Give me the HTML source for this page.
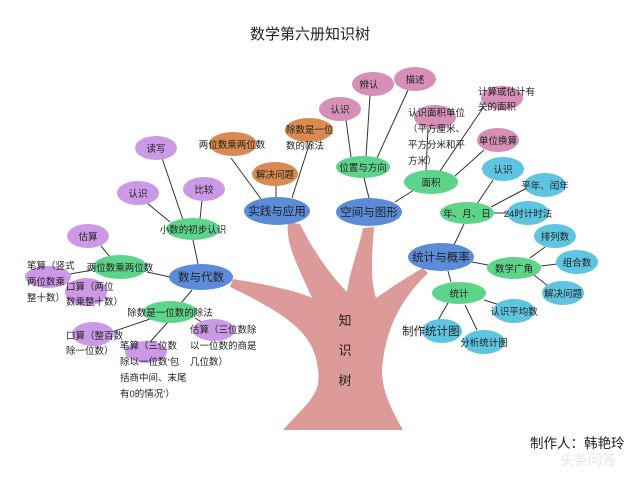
<!DOCTYPE html>
<html><head><meta charset="utf-8"><style>
html,body{margin:0;padding:0;background:#fff;}
svg{display:block;}
text{font-family:"Liberation Sans","Noto Sans CJK SC",sans-serif;fill:#222;}
</style></head><body>
<svg width="640" height="480" viewBox="0 0 640 480" xmlns="http://www.w3.org/2000/svg">
<rect width="640" height="480" fill="#fff"/>
<text x="310" y="39" font-size="15" text-anchor="middle">数学第六册知识树</text>
<path d="M283,430 C305,405 322,395 318,370 C315,340 300,320 230,287 L233,279 C270,285 300,292 312,298 C300,270 285,245 288,222 L300,224 C315,255 335,280 347,292 C350,270 360,245 363,228 L374,227 C372,255 370,280 376,298 C395,285 410,275 423,268 L428,273 C400,300 385,330 382,370 C382,395 395,415 403,430 Z" fill="#dc9a98"/>
<g stroke="#333" stroke-width="1">
<line x1="162" y1="158" x2="183" y2="220"/><line x1="147" y1="203" x2="170" y2="222"/><line x1="202" y1="200" x2="200" y2="219"/><line x1="193" y1="240" x2="198" y2="264"/>
<line x1="101" y1="246" x2="110" y2="257"/><line x1="93" y1="270" x2="70" y2="274"/><line x1="147" y1="272" x2="170" y2="277"/><line x1="192" y1="290" x2="182" y2="302"/>
<line x1="150" y1="319" x2="112" y2="332"/><line x1="168" y1="322" x2="150" y2="342"/><line x1="195" y1="318" x2="205" y2="324"/>
<line x1="231" y1="158" x2="261" y2="199"/><line x1="276" y1="186" x2="276" y2="197"/><line x1="310" y1="142" x2="292" y2="198"/>
<line x1="364" y1="178" x2="369" y2="198"/><line x1="346" y1="120" x2="351" y2="157"/><line x1="370" y1="95" x2="366" y2="157"/><line x1="408" y1="90" x2="377" y2="158"/>
<line x1="414" y1="190" x2="395" y2="202"/><line x1="426" y1="171" x2="428" y2="128"/><line x1="440" y1="171" x2="483" y2="108"/><line x1="455" y1="176" x2="484" y2="150"/>
<line x1="493" y1="180" x2="477" y2="204"/><line x1="525" y1="189" x2="491" y2="207"/><line x1="507" y1="213" x2="494" y2="213"/><line x1="464" y1="224" x2="454" y2="245"/>
<line x1="472" y1="262" x2="488" y2="265"/><line x1="545" y1="247" x2="530" y2="258"/><line x1="557" y1="264" x2="541" y2="266"/><line x1="548" y1="286" x2="534" y2="275"/>
<line x1="448" y1="271" x2="451" y2="282"/><line x1="484" y1="300" x2="500" y2="305"/><line x1="448" y1="303" x2="437" y2="322"/><line x1="465" y1="305" x2="477" y2="330"/>
</g>
<g>
<!-- purple -->
<ellipse cx="156" cy="148" rx="21" ry="12" fill="#cc99e6"/>
<ellipse cx="138" cy="193" rx="21" ry="12" fill="#cc99e6"/>
<ellipse cx="204" cy="189" rx="21" ry="12" fill="#cc99e6"/>
<ellipse cx="88" cy="236" rx="21" ry="12" fill="#cc99e6"/>
<ellipse cx="48" cy="277" rx="23" ry="11" fill="#cc99e6"/>
<ellipse cx="86" cy="292" rx="21" ry="14" fill="#cc99e6"/>
<ellipse cx="93" cy="334" rx="21" ry="12" fill="#cc99e6"/>
<ellipse cx="146" cy="352" rx="21" ry="11" fill="#cc99e6"/>
<ellipse cx="214" cy="330" rx="21" ry="11" fill="#cc99e6"/>
<!-- green -->
<ellipse cx="193" cy="229" rx="27" ry="11" fill="#5ed38a"/>
<ellipse cx="120" cy="267" rx="27" ry="12" fill="#5ed38a"/>
<ellipse cx="170" cy="312" rx="27" ry="11" fill="#5ed38a"/>
<ellipse cx="363" cy="167" rx="27" ry="11" fill="#5ed38a"/>
<ellipse cx="431" cy="182" rx="27" ry="12" fill="#5ed38a"/>
<ellipse cx="467" cy="213" rx="27" ry="11" fill="#5ed38a"/>
<ellipse cx="514" cy="268" rx="27" ry="11" fill="#5ed38a"/>
<ellipse cx="459" cy="293" rx="27" ry="11" fill="#5ed38a"/>
<!-- orange -->
<ellipse cx="233" cy="144" rx="24" ry="12" fill="#d98a50"/>
<ellipse cx="275" cy="174" rx="23" ry="12" fill="#d98a50"/>
<ellipse cx="309" cy="130" rx="24" ry="12" fill="#d98a50"/>
<!-- pink -->
<ellipse cx="340" cy="109" rx="21" ry="12" fill="#d690b8"/>
<ellipse cx="373" cy="84" rx="21" ry="12" fill="#d690b8"/>
<ellipse cx="415" cy="79" rx="21" ry="12" fill="#d690b8"/>
<ellipse cx="435" cy="117" rx="21" ry="12" fill="#d690b8"/>
<ellipse cx="502" cy="98" rx="21" ry="12" fill="#d690b8"/>
<ellipse cx="498" cy="140" rx="21" ry="12" fill="#d690b8"/>
<!-- cyan -->
<ellipse cx="503" cy="169" rx="21" ry="12" fill="#5ec4e0"/>
<ellipse cx="545" cy="185" rx="21" ry="12" fill="#5ec4e0"/>
<ellipse cx="528" cy="213" rx="21" ry="12" fill="#5ec4e0"/>
<ellipse cx="555" cy="236" rx="21" ry="12" fill="#5ec4e0"/>
<ellipse cx="577" cy="262" rx="21" ry="12" fill="#5ec4e0"/>
<ellipse cx="563" cy="293" rx="21" ry="12" fill="#5ec4e0"/>
<ellipse cx="514" cy="311" rx="21" ry="12" fill="#5ec4e0"/>
<ellipse cx="442" cy="331" rx="20" ry="12" fill="#5ec4e0"/>
<ellipse cx="484" cy="342" rx="21" ry="12" fill="#5ec4e0"/>
<!-- blue -->
<ellipse cx="201" cy="277" rx="32" ry="13" fill="#5b8bd9"/>
<ellipse cx="277" cy="211" rx="33" ry="14" fill="#5b8bd9"/>
<ellipse cx="369" cy="212" rx="33" ry="14" fill="#5b8bd9"/>
<ellipse cx="441" cy="257" rx="33" ry="14" fill="#5b8bd9"/>
</g>
<g font-size="9.5" text-anchor="middle">
<text x="156" y="152">读写</text><text x="138" y="197">认识</text><text x="204" y="193">比较</text>
<text x="193" y="233">小数的初步认识</text><text x="88" y="240">估算</text><text x="120" y="271">两位数乘两位数</text>
<text x="170" y="316">除数是一位数的除法</text>
<text x="232" y="148">两位数乘两位数</text><text x="275" y="178">解决问题</text>
<text x="340" y="113">认识</text><text x="369" y="88">辨认</text><text x="415" y="83">描述</text>
<text x="363" y="171">位置与方向</text><text x="431" y="186">面积</text><text x="498" y="144">单位换算</text>
<text x="503" y="173">认识</text><text x="545" y="189">平年、闰年</text><text x="528" y="217">24时计时法</text>
<text x="467" y="217">年、月、日</text><text x="555" y="240">排列数</text><text x="577" y="266">组合数</text>
<text x="563" y="297">解决问题</text><text x="514" y="272">数学广角</text><text x="459" y="297">统计</text>
<text x="514" y="315">认识平均数</text><text x="484" y="346">分析统计图</text>
</g>
<g font-size="9.5">
<text x="27" y="269">笔算（竖式</text><text x="27" y="285">两位数乘</text><text x="27" y="301">整十数）</text>
<text x="66" y="290">口算（两位</text><text x="66" y="305">数乘整十数）</text>
<text x="66" y="339">口算（整百数</text><text x="66" y="354">除一位数）</text>
<text x="120" y="349">笔算（三位数</text><text x="120" y="365">除以一位数‘包</text><text x="120" y="381">括商中间、末尾</text><text x="120" y="397">有0的情况’）</text>
<text x="190" y="333">估算（三位数除</text><text x="190" y="349">以一位数的商是</text><text x="190" y="365">几位数）</text>
<text x="286" y="133">除数是一位</text><text x="286" y="149">数的除法</text>
<text x="408" y="116">认识面积单位</text><text x="408" y="132">（平方厘米、</text><text x="408" y="148">平方分米和平</text><text x="408" y="164">方米）</text>
<text x="478" y="95">计算或估计有</text><text x="478" y="110">关的面积</text>
</g>
<g font-size="11.5" text-anchor="middle">
<text x="201" y="281">数与代数</text><text x="277" y="215">实践与应用</text><text x="369" y="216">空间与图形</text><text x="441" y="261">统计与概率</text>
</g>
<text x="402" y="335" font-size="11.5">制作统计图</text>
<g font-size="13" text-anchor="middle"><text x="345" y="325">知</text><text x="345" y="355">识</text><text x="345" y="385">树</text></g>
<text x="530" y="448" font-size="13.5">制作人：韩艳玲</text>
<text x="560" y="465" font-size="14" fill="#e8e8e8" style="fill:#e6e6e6">头条问答</text>
</svg>
</body></html>
